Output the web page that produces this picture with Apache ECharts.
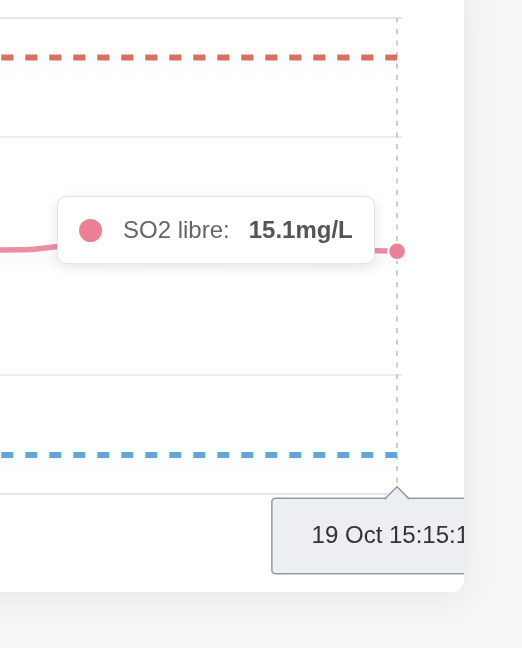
<!DOCTYPE html>
<html><head><meta charset="utf-8">
<script src="https://cdn.jsdelivr.net/npm/echarts@6/dist/echarts.min.js"></script>
<style>
html,body{margin:0;padding:0;width:522px;height:648px;overflow:hidden;background:#f6f6f6;}
#card{position:absolute;left:-60px;top:-20px;width:524px;height:612px;background:#fff;border-radius:12px;overflow:hidden;box-shadow:0 4px 36px rgba(0,0,0,0.07);}
#chart{position:absolute;left:0;top:0;width:620px;height:612px;}
</style></head><body>
<div id="card"><div id="chart"></div></div>
<script>
const day = '2023-10-19';
const times = ['15:09:00','15:09:40','15:10:10','15:11:00','15:12:00','15:13:00','15:14:00','15:14:40','15:15:12'];
const so2Libre = [15.12, 15.13, 15.20, 15.27, 15.23, 15.17, 15.13, 15.12, 15.10];
const limitTimes = ['15:09:00','15:15:12'];
const upperLimit = [19.17, 19.17];
const lowerLimit = [10.82, 10.82];
const seriesName = 'SO2 libre';
const unit = 'mg/L';
const yMin = 10, yMax = 20;
const monthNames = ['Jan','Feb','Mar','Apr','May','Jun','Jul','Aug','Sep','Oct','Nov','Dec'];

const ts = t => new Date(day + 'T' + t).getTime();
const pinkData = times.map((t, i) => [ts(t), so2Libre[i]]);
const upperData = limitTimes.map((t, i) => [ts(t), upperLimit[i]]);
const lowerData = limitTimes.map((t, i) => [ts(t), lowerLimit[i]]);
pinkData[pinkData.length - 1] = {value: pinkData[pinkData.length - 1], symbol: 'circle'};
const lastTime = ts(times[times.length - 1]);

const pad = n => (n < 10 ? '0' : '') + n;
function fmtTime(v) {
  const d = new Date(v);
  return d.getDate() + ' ' + monthNames[d.getMonth()] + ' ' + pad(d.getHours()) + ':' + pad(d.getMinutes()) + ':' + pad(d.getSeconds());
}

const FONT = "'Liberation Sans', Arial, Helvetica, sans-serif";
const shadow = {shadowColor: 'rgba(0,0,0,0.06)', shadowBlur: 16, shadowOffsetY: 11};
const helperAxis = inv => ({
  type: 'value', min: 0, max: 4, interval: 3, inverse: inv,
  axisLine: {show: false}, axisTick: {show: false}, axisLabel: {show: false},
  splitLine: {show: true, lineStyle: {color: '#e6e6e6', width: 1.5}}
});

const chart = echarts.init(document.getElementById('chart'));
chart.setOption({
  animation: false,
  grid: {left: 40, right: 158, top: 38, bottom: 98},
  xAxis: {
    type: 'time', min: ts(times[0]), max: lastTime + 4460,
    axisLine: {show: false, onZero: false}, axisTick: {show: false}, axisLabel: {show: false}, splitLine: {show: false}
  },
  yAxis: [
    {type: 'value', min: yMin, max: yMax, show: false},
    helperAxis(false),
    helperAxis(true)
  ],
  tooltip: {
    trigger: 'axis', triggerOn: 'none', alwaysShowContent: true, transitionDuration: 0,
    backgroundColor: '#fff', borderColor: '#e4e4e4', borderWidth: 1, padding: [20, 21],
    extraCssText: 'border-radius:10px;box-shadow:0 3px 14px rgba(0,0,0,0.10);',
    textStyle: {fontFamily: FONT, fontSize: 24, color: '#666'},
    position: (point, params, dom, rect, size) => [point[0] - size.contentSize[0] - 22, point[1] - 55],
    formatter: params => {
      const p = params.find(q => q.seriesName === seriesName);
      const v = Array.isArray(p.value) ? p.value[1] : p.value.value[1];
      return '<div style="display:flex;align-items:center;height:26px;line-height:26px;font-family:' + FONT.replace(/'/g, '') + '">' +
        '<span style="display:inline-block;width:23px;height:23px;border-radius:50%;background:#ec8196"></span>' +
        '<span style="margin-left:21px;color:#666;font-size:24px">' + p.seriesName + ':</span>' +
        '<span style="margin-left:19px;color:#555;font-weight:bold;font-size:24px">' + v.toFixed(1) + unit + '</span></div>';
    },
    axisPointer: {
      type: 'line', z: 1,
      lineStyle: {color: '#bdbdbd', width: 1.5, type: [5, 6.5]},
      label: {
        show: true, margin: 5, formatter: p => fmtTime(p.value),
        backgroundColor: '#eceef1', borderColor: '#8e9aa6', borderWidth: 1.5, borderRadius: 3,
        padding: [25, 39], color: '#333', fontSize: 24, fontFamily: FONT, shadowBlur: 0
      }
    }
  },
  series: [
    {name: 'Max', type: 'line', data: upperData, symbol: 'none', emphasis: {disabled: true}, z: 3,
      lineStyle: Object.assign({color: '#dd6c61', width: 6, type: [12, 12], dashOffset: 2.7}, shadow)},
    {name: 'Min', type: 'line', data: lowerData, symbol: 'none', emphasis: {disabled: true}, z: 3,
      lineStyle: Object.assign({color: '#62a4dc', width: 6, type: [12, 12], dashOffset: 2.7}, shadow)},
    {name: seriesName, type: 'line', data: pinkData, smooth: true, symbol: 'none', showSymbol: true,
      symbolSize: 16, emphasis: {disabled: true}, z: 4,
      itemStyle: {color: '#ec8196', borderColor: '#fff', borderWidth: 2},
      lineStyle: Object.assign({color: '#ec8ea3', width: 5.5}, shadow)}
  ]
});

const px = chart.convertToPixel({xAxisIndex: 0}, lastTime);
const yb = chart.convertToPixel({yAxisIndex: 0}, yMin);
chart.setOption({
  graphic: [
    {type: 'polygon', z: 1000, silent: true,
      shape: {points: [[px - 12.5, yb + 6.8], [px, yb - 7.3], [px + 12.5, yb + 6.8]]},
      style: {fill: '#eceef1'}},
    {type: 'polyline', z: 1001, silent: true,
      shape: {points: [[px - 12.5, yb + 5.2], [px, yb - 7.3], [px + 12.5, yb + 5.2]]},
      style: {stroke: '#8e9aa6', lineWidth: 1.5, fill: null}}
  ]
});
chart.dispatchAction({type: 'showTip', seriesIndex: 2, dataIndex: so2Libre.length - 1});
</script></body></html>
